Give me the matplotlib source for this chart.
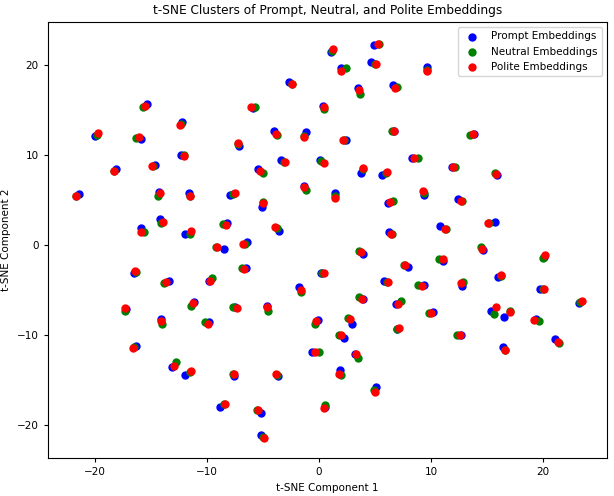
import numpy as np
import matplotlib
matplotlib.use("Agg")
import matplotlib.pyplot as plt

# t-SNE coordinates (100 clusters, one point per embedding type)
prompt_x = [-15.38, -12.2, -19.97, -15.9, -7.1, -12.35, -18.1, -14.6, -21.45, -14.26,
            -11.58, -7.95, -14.17, -15.87, -12.0, -8.19, 1.07, 4.91, 1.96, 4.64,
            9.67, -2.68, 3.48, 6.63, -5.86, 0.36, -4.05, -1.16, 6.72, 2.38,
            -3.39, 0.1, 8.33, -5.42, 3.78, 5.65, -1.37, 1.46, 9.4, -5.06,
            6.19, -3.54, 6.25, -6.46, 13.87, 11.88, 15.92, 12.41, 10.8, 15.69,
            -8.46, -16.52, -13.37, -9.85, -17.26, -11.13, -14.08, -9.79, -7.5, -16.31,
            -13.1, -11.94, -7.62, -8.81, 3.96, -6.52, 0.18, 7.92, -1.76, 5.8,
            9.35, -4.65, 3.96, 6.85, -0.09, 2.97, 6.93, 2.26, -0.65, 3.21,
            -3.69, 1.9, 5.06, -5.21, 0.5, -5.18, 14.67, 11.1, 20.1, 12.8,
            15.98, 19.73, 23.19, 10.18, 15.33, 16.55, 19.4, 12.65, 21.07, 16.46]
prompt_y = [15.7, 13.67, 12.07, 11.8, 10.96, 9.96, 8.44, 8.9, 5.67, 5.89,
            5.74, 5.59, 2.89, 1.89, 1.19, 2.44, 21.48, 22.19, 19.67, 20.33,
            19.78, 18.1, 17.44, 17.78, 15.2, 15.44, 12.7, 12.56, 12.63, 11.63,
            9.48, 9.4, 9.63, 8.41, 8.04, 7.74, 6.59, 5.81, 5.52, 4.19,
            4.63, 1.59, 1.44, 0.33, 12.33, 8.63, 7.74, 5.07, 2.11, 2.52,
            -0.48, -3.15, -4.04, -4.04, -7.11, -6.33, -8.22, -8.56, -6.9, -11.26,
            -13.59, -14.48, -14.63, -18.04, -0.96, -2.59, -3.15, -2.41, -4.63, -4.04,
            -4.41, -6.8, -6.04, -6.59, -8.37, -8.81, -9.37, -10.37, -11.93, -12.11,
            -14.59, -13.96, -15.85, -18.74, -18.0, -21.15, -0.59, -1.74, -1.3, -4.52,
            -3.52, -4.93, -6.48, -7.48, -7.33, -8.04, -8.19, -10.04, -10.44, -11.3]

neutral_x = [-15.7, -12.35, -19.8, -16.3, -7.2, -12.05, -18.3, -14.85, -21.65, -14.35,
             -11.5, -7.65, -14.08, -15.6, -11.52, -8.6, 1.2, 5.38, 2.44, 5.0,
             9.67, -2.45, 3.69, 6.99, -5.68, 0.48, -3.78, -1.3, 6.49, 2.2,
             -3.1, 0.15, 8.81, -5.03, 3.9, 6.0, -1.13, 1.46, 9.35, -4.97,
             6.58, -3.75, 6.55, -6.6, 13.51, 12.17, 15.74, 12.75, 11.34, 15.2,
             -9.17, -16.31, -13.81, -9.53, -17.29, -11.43, -13.99, -10.18, -7.65, -16.5,
             -12.74, -11.5, -7.68, -8.48, 3.57, -6.85, 0.3, 7.59, -1.58, 6.1,
             8.87, -4.52, 3.57, 7.32, -0.36, 2.56, 6.99, 1.79, -0.03, 3.45,
             -3.75, 1.99, 4.94, -5.54, 0.57, -5.0, 14.46, 10.71, 20.03, 12.86,
             16.2, 20.0, 23.3, 9.82, 15.65, 17.08, 19.61, 12.35, 21.4, 16.58]
neutral_y = [15.4, 13.5, 12.2, 11.85, 11.2, 10.0, 8.2, 8.75, 5.45, 5.4,
             5.45, 5.63, 2.4, 1.4, 1.19, 2.3, 21.6, 22.3, 19.63, 20.08,
             19.45, 17.9, 16.8, 17.52, 15.3, 15.07, 12.26, 12.1, 12.63, 11.63,
             9.25, 9.33, 9.63, 8.04, 8.4, 8.0, 6.15, 5.4, 5.8, 4.78,
             4.85, 1.89, 1.19, 0.15, 12.18, 8.63, 8.0, 4.85, 1.74, 2.45,
             -0.19, -3.04, -4.26, -3.67, -7.3, -6.74, -8.74, -8.56, -6.93, -11.4,
             -13.0, -14.1, -14.37, -17.7, -0.67, -2.59, -3.15, -2.22, -5.19, -4.1,
             -4.48, -7.37, -5.78, -6.22, -8.74, -8.15, -9.33, -10.0, -11.93, -12.52,
             -14.45, -14.52, -16.11, -18.33, -17.78, -21.35, -0.22, -1.59, -1.48, -4.11,
             -3.4, -4.93, -6.37, -7.59, -7.7, -7.37, -8.48, -10.04, -10.96, -11.67]

polite_x = [-15.55, -12.44, -19.7, -16.1, -7.23, -12.03, -18.33, -14.9, -21.7, -14.17,
            -11.49, -7.47, -13.9, -15.87, -11.46, -8.28, 1.28, 5.29, 1.99, 5.12,
            9.67, -2.38, 3.6, 6.76, -6.07, 0.48, -3.87, -1.34, 6.67, 2.14,
            -3.04, 0.45, 8.46, -5.24, 3.96, 6.07, -1.31, 1.46, 9.31, -5.03,
            6.37, -3.9, 6.46, -6.76, 13.75, 12.0, 15.83, 12.71, 11.28, 15.12,
            -9.08, -16.46, -13.69, -9.7, -17.29, -11.22, -14.08, -9.88, -7.32, -16.58,
            -12.92, -11.46, -7.56, -8.37, 3.75, -6.67, 0.48, 7.71, -1.64, 6.19,
            9.22, -4.61, 3.81, 7.08, -0.24, 2.77, 7.14, 1.96, -0.36, 3.3,
            -3.81, 1.81, 5.03, -5.42, 0.48, -4.91, 14.58, 11.07, 20.21, 12.71,
            16.28, 20.12, 23.51, 10.0, 15.83, 17.08, 19.22, 12.59, 21.37, 16.64]
polite_y = [15.5, 13.3, 12.4, 11.97, 11.33, 9.85, 8.18, 8.74, 5.4, 5.78,
            5.4, 5.74, 2.55, 1.4, 1.56, 2.19, 21.78, 22.4, 19.4, 20.08,
            19.3, 17.85, 17.26, 17.41, 15.3, 15.4, 12.37, 11.97, 12.63, 11.63,
            9.19, 9.07, 9.63, 8.19, 8.56, 8.07, 6.41, 5.26, 6.0, 4.67,
            4.74, 2.0, 1.22, 0.07, 12.3, 8.63, 7.85, 4.89, 1.81, 2.41,
            -0.26, -2.93, -4.15, -3.96, -7.0, -6.48, -8.44, -8.81, -7.04, -11.48,
            -13.44, -14.04, -14.37, -17.7, -0.74, -2.7, -3.15, -2.26, -5.04, -4.15,
            -4.56, -6.89, -6.0, -6.52, -8.41, -8.26, -9.22, -10.04, -11.93, -12.15,
            -14.37, -14.33, -16.37, -18.41, -18.15, -21.48, -0.44, -1.56, -1.11, -4.26,
            -3.37, -4.93, -6.26, -7.52, -6.89, -7.48, -8.33, -10.04, -10.81, -11.7]

fig = plt.figure(figsize=(6.14, 4.96), dpi=100)
ax = fig.add_axes([0.078, 0.0766, 0.9106, 0.879])

ax.scatter(prompt_x, prompt_y, c='blue', s=25, label='Prompt Embeddings')
ax.scatter(neutral_x, neutral_y, c='green', s=25, label='Neutral Embeddings')
ax.scatter(polite_x, polite_y, c='red', s=25, label='Polite Embeddings')

ax.set_xlim(-24.2, 25.7)
ax.set_ylim(-23.7, 24.8)
ax.set_xticks([-20, -10, 0, 10, 20])
ax.set_yticks([-20, -10, 0, 10, 20])
ax.tick_params(labelsize=7.5, length=3)

ax.set_title('t-SNE Clusters of Prompt, Neutral, and Polite Embeddings', fontsize=8.7)
ax.set_xlabel('t-SNE Component 1', fontsize=7.5)
ax.set_ylabel('t-SNE Component 2', fontsize=7.5)
ax.legend(loc='upper right', fontsize=7.5)

plt.savefig('out.png', dpi=100)
